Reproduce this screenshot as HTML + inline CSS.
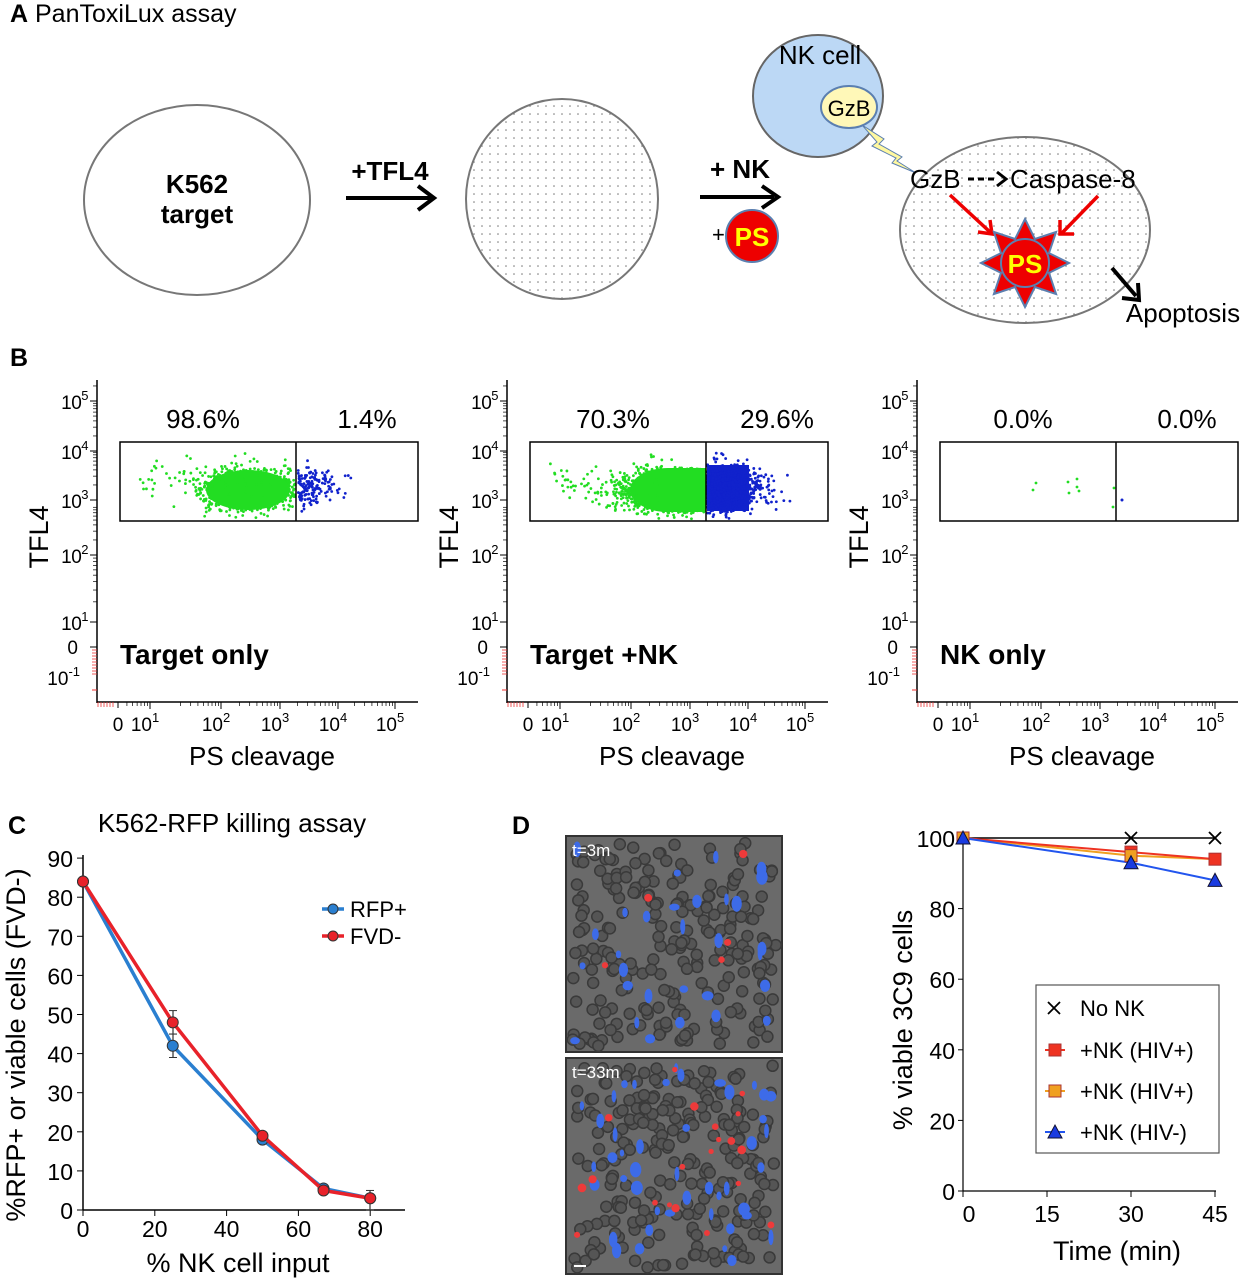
<!DOCTYPE html>
<html><head><meta charset="utf-8"><style>
html,body{margin:0;padding:0;background:#fff}
svg{display:block;font-family:"Liberation Sans",Arial,sans-serif}
</style></head><body>
<svg id="s" width="1249" height="1280" viewBox="0 0 1249 1280" xmlns="http://www.w3.org/2000/svg">
<defs>
<pattern id="dots" width="8" height="8" patternUnits="userSpaceOnUse"><circle cx="2" cy="2" r="0.8" fill="#777"/></pattern>
</defs>
<text x="10" y="22" font-size="25"><tspan font-weight="bold">A</tspan> PanToxiLux assay</text>
<ellipse cx="197" cy="200" rx="113" ry="95" fill="#fff" stroke="#777" stroke-width="2"/>
<text x="197" y="193" font-size="26" font-weight="bold" text-anchor="middle">K562</text>
<text x="197" y="223" font-size="26" font-weight="bold" text-anchor="middle">target</text>
<text x="390" y="180" font-size="26" font-weight="bold" text-anchor="middle">+TFL4</text>
<line x1="346" y1="198" x2="432" y2="198" stroke="#000" stroke-width="4"/><path d="M418,186 L434,198 L418,210" fill="none" stroke="#000" stroke-width="4"/>
<ellipse cx="562" cy="199" rx="96" ry="100" fill="#fff" stroke="#777" stroke-width="2"/>
<ellipse cx="562" cy="199" rx="96" ry="100" fill="url(#dots)"/>
<text x="740" y="178" font-size="26" font-weight="bold" text-anchor="middle">+ NK</text>
<line x1="700" y1="197" x2="774" y2="197" stroke="#000" stroke-width="4"/><path d="M762,186 L778,197 L762,208" fill="none" stroke="#000" stroke-width="4"/>
<text x="712" y="242" font-size="22">+</text>
<circle cx="752" cy="236" r="26" fill="#e00" stroke="#5b7fb0" stroke-width="2"/>
<text x="752" y="246" font-size="26" font-weight="bold" fill="#ff0" text-anchor="middle">PS</text>
<ellipse cx="818" cy="96" rx="65" ry="61" fill="#bcd8f5" stroke="#666" stroke-width="2"/>
<text x="820" y="64" font-size="26" text-anchor="middle">NK cell</text>
<ellipse cx="849" cy="107" rx="28" ry="21" fill="#fff8b8" stroke="#5b7fb0" stroke-width="2"/>
<text x="849" y="116" font-size="22" text-anchor="middle">GzB</text>
<ellipse cx="1025" cy="230" rx="125" ry="93" fill="#fff" stroke="#777" stroke-width="2"/>
<ellipse cx="1025" cy="230" rx="125" ry="93" fill="url(#dots)"/>
<path d="M862,125 L884,139 L879,144 L902,157 L897,161 L916,173 L892,163 L896,158 L872,146 L877,142 Z" fill="#fff8a0" stroke="#5b7fb0" stroke-width="1"/>
<text x="910" y="188" font-size="26">GzB</text>
<line x1="968" y1="179" x2="998" y2="179" stroke="#000" stroke-width="3" stroke-dasharray="6,4"/><path d="M997,172 L1006,179 L997,186" fill="none" stroke="#000" stroke-width="3"/>
<text x="1010" y="188" font-size="26">Caspase-8</text>
<line x1="950" y1="195" x2="990" y2="232" stroke="#e00" stroke-width="3.5"/><path d="M978,232 L992,234 L990,220" fill="none" stroke="#e00" stroke-width="3.5"/>
<line x1="1098" y1="196" x2="1062" y2="233" stroke="#e00" stroke-width="3.5"/><path d="M1060,220 L1060,234 L1074,234" fill="none" stroke="#e00" stroke-width="3.5"/>
<g id="star"></g>
<circle cx="1025" cy="263" r="24" fill="#e00" stroke="#5b7fb0" stroke-width="2"/>
<text x="1025" y="273" font-size="26" font-weight="bold" fill="#ff0" text-anchor="middle">PS</text>
<line x1="1112" y1="268" x2="1136" y2="296" stroke="#000" stroke-width="4"/><path d="M1122,298 L1139,300 L1138,283" fill="none" stroke="#000" stroke-width="4"/>
<text x="1183" y="322" font-size="26" text-anchor="middle">Apoptosis</text>
<text x="10" y="366" font-size="25" font-weight="bold">B</text>
<g id="flow"></g>
<text x="8" y="834" font-size="25" font-weight="bold">C</text>
<text x="232" y="832" font-size="26" text-anchor="middle">K562-RFP killing assay</text>
<g id="pc"></g>
<text x="512" y="834" font-size="25" font-weight="bold">D</text>
<g id="micro"></g>
<g id="pd"></g>
</svg>
<script>
var NS="http://www.w3.org/2000/svg";
function el(p,t,a,txt){var e=document.createElementNS(NS,t);for(var k in a)e.setAttribute(k,a[k]);if(txt!=null)e.textContent=txt;(typeof p=='string'?document.getElementById(p):p).appendChild(e);return e;}
function sup(e,t){var s=document.createElementNS(NS,'tspan');s.setAttribute('dy','-9');s.setAttribute('font-size','13');s.textContent=t;e.appendChild(s);}
var seed=7;function rnd(){seed=(seed*16807)%2147483647;return seed/2147483647;}
function gauss(){return Math.sqrt(-2*Math.log(rnd()+1e-9))*Math.cos(2*Math.PI*rnd());}
(function(){var g=document.getElementById('star'),cx=1025,cy=263,pts=[];for(var i=0;i<16;i++){var r=i%2?26:44,a=i*Math.PI/8-Math.PI/2;pts.push((cx+r*Math.cos(a)).toFixed(1)+','+(cy+r*Math.sin(a)).toFixed(1));}
el(g,'polygon',{points:pts.join(' '),fill:'#e00',stroke:'#5b7fb0','stroke-width':2});})();
function flow(ox,pL,pR,lab,mode){
 var g=el('flow','g',{transform:'translate('+ox+',0)'});
 el(g,'line',{x1:97,y1:380,x2:97,y2:703,stroke:'#000','stroke-width':1.5});
 el(g,'line',{x1:97,y1:702,x2:418,y2:702,stroke:'#000','stroke-width':1.5});
 var yt=[[401,'5'],[451,'4'],[500,'3'],[555,'2'],[622,'1']];
 yt.forEach(function(t){sup(el(g,'text',{x:88,y:t[0]+8,'font-size':19,'text-anchor':'end','letter-spacing':'-0.5'},'10'),t[1]);
  el(g,'line',{x1:90,y1:t[0],x2:97,y2:t[0],stroke:'#000'});
  for(var k=1;k<9;k++){var yy=t[0]-Math.log10(k+1)*(t[0]==622?67:50);if(t[0]>401||k<2)el(g,'line',{x1:93,y1:yy,x2:97,y2:yy,stroke:'#000','stroke-width':0.7});}
 });
 el(g,'text',{x:78,y:654,'font-size':19,'text-anchor':'end'},'0');el(g,'line',{x1:90,y1:647,x2:97,y2:647,stroke:'#000'});
 sup(el(g,'text',{x:80,y:685,'font-size':19,'text-anchor':'end'},'10'),'-1');
 for(var y=650;y<676;y+=3)el(g,'line',{x1:92,y1:y,x2:97,y2:y,stroke:'#e33','stroke-width':0.8});
 el(g,'line',{x1:92,y1:690,x2:97,y2:690,stroke:'#e33'});
 for(var x=98;x<116;x+=3)el(g,'line',{x1:x,y1:702,x2:x,y2:707,stroke:'#e33','stroke-width':0.8});
 var xt=[[150,'1'],[221,'2'],[280,'3'],[338,'4'],[395,'5']];
 el(g,'text',{x:118,y:731,'font-size':19,'text-anchor':'middle'},'0');el(g,'line',{x1:118,y1:702,x2:118,y2:708,stroke:'#000'});
 xt.forEach(function(t){sup(el(g,'text',{x:t[0]-5,y:731,'font-size':19,'text-anchor':'middle'},'10'),t[1]);
  el(g,'line',{x1:t[0],y1:702,x2:t[0],y2:709,stroke:'#000'});
  for(var k=1;k<9;k++){var xx=t[0]-58+Math.log10(k+1)*58;if(xx>122)el(g,'line',{x1:xx,y1:702,x2:xx,y2:706,stroke:'#000','stroke-width':0.7});}});
 el(g,'text',{x:262,y:765,'font-size':26,'text-anchor':'middle'},'PS cleavage');
 el(g,'text',{x:0,y:0,'font-size':27,'text-anchor':'middle',transform:'translate(48,537) rotate(-90)'},'TFL4');
 el(g,'text',{x:203,y:428,'font-size':26,'text-anchor':'middle'},pL);
 el(g,'text',{x:367,y:428,'font-size':26,'text-anchor':'middle'},pR);
 el(g,'text',{x:120,y:664,'font-size':28,'font-weight':'bold'},lab);
 el(g,'rect',{x:120,y:442,width:298,height:79,fill:'none',stroke:'#000','stroke-width':1.5});
 if(mode==0){
  for(var i=0;i<1500;i++){var x=250+gauss()*22,y=490+gauss()*9;if(x>296||y<447||y>518)continue;el(g,'circle',{cx:x,cy:y,r:1.4,fill:'#2d2'});}
  el(g,'ellipse',{cx:248,cy:490,rx:42,ry:20,fill:'#2d2'});
  for(var i=0;i<80;i++){var x=140+rnd()*150,y=480+gauss()*10;el(g,'circle',{cx:x,cy:y,r:1.4,fill:'#2d2'});}
  for(var i=0;i<160;i++){var x=298+Math.abs(gauss())*18,y=487+gauss()*9;el(g,'circle',{cx:x,cy:y,r:1.4,fill:'#12c'});}
 } else if(mode==1){
  for(var i=0;i<1800;i++){var x=265+gauss()*28,y=490+gauss()*10;if(x>296||y<447||y>519)continue;el(g,'circle',{cx:x,cy:y,r:1.4,fill:'#2d2'});}
  el(g,'ellipse',{cx:258,cy:490,rx:38,ry:22,fill:'#2d2'});el(g,'rect',{x:258,y:468,width:38,height:44,fill:'#2d2'});
  for(var i=0;i<60;i++){var x=140+rnd()*110,y=485+gauss()*10;el(g,'circle',{cx:x,cy:y,r:1.4,fill:'#2d2'});}
  el(g,'rect',{x:297,y:465,width:42,height:46,fill:'#12c'});
  for(var i=0;i<900;i++){var x=297+Math.abs(gauss())*26,y=488+gauss()*11;if(y<450||y>519)continue;el(g,'circle',{cx:x,cy:y,r:1.4,fill:'#12c'});}
 } else {
  [[213,490],[216,483],[248,482],[249,493],[257,479],[257,487],[259,491],[294,488],[293,507]].forEach(function(p){el(g,'circle',{cx:p[0],cy:p[1],r:1.4,fill:'#2d2'});});
  el(g,'circle',{cx:302,cy:500,r:1.5,fill:'#12c'});
 }
 el(g,'line',{x1:296,y1:442,x2:296,y2:521,stroke:'#000','stroke-width':1.5});
}
flow(0,'98.6%','1.4%','Target only',0);
flow(410,'70.3%','29.6%','Target +NK',1);
flow(820,'0.0%','0.0%','NK only',2);
(function(){var g=document.getElementById('pc'),X=function(v){return 83+v*3.59},Y=function(v){return 1210-v*3.91};
 el(g,'line',{x1:83,y1:855,x2:83,y2:1210,stroke:'#000','stroke-width':1.5});el(g,'line',{x1:83,y1:1210,x2:405,y2:1210,stroke:'#000','stroke-width':1.5});
 for(var v=0;v<=90;v+=10){el(g,'line',{x1:77,y1:Y(v),x2:83,y2:Y(v),stroke:'#000'});el(g,'text',{x:73,y:Y(v)+9,'font-size':23,'text-anchor':'end'},v);}
 for(var v=0;v<=80;v+=20){el(g,'line',{x1:X(v),y1:1210,x2:X(v),y2:1216,stroke:'#000'});el(g,'text',{x:X(v),y:1237,'font-size':23,'text-anchor':'middle'},v);}
 el(g,'text',{x:238,y:1272,'font-size':27,'text-anchor':'middle'},'% NK cell input');
 el(g,'text',{x:0,y:0,'font-size':27,'text-anchor':'middle',transform:'translate(25,1045) rotate(-90)'},'%RFP+ or viable cells (FVD-)');
 var R=[[0,84],[25,42],[50,18],[67,5.5],[80,3]],F=[[0,84],[25,48],[50,19],[67,5],[80,3]];
 [[173,45,42,39],[173,51,48,45],[370,5,3,0]].forEach(function(e){el(g,'line',{x1:e[0],y1:Y(e[1]),x2:e[0],y2:Y(e[3]),stroke:'#333','stroke-width':1.2});el(g,'line',{x1:e[0]-4,y1:Y(e[1]),x2:e[0]+4,y2:Y(e[1]),stroke:'#333'});el(g,'line',{x1:e[0]-4,y1:Y(e[3]),x2:e[0]+4,y2:Y(e[3]),stroke:'#333'});});
 function ser(d,c){el(g,'polyline',{points:d.map(function(p){return X(p[0])+','+Y(p[1])}).join(' '),fill:'none',stroke:c,'stroke-width':3.5});d.forEach(function(p){el(g,'circle',{cx:X(p[0]),cy:Y(p[1]),r:5.5,fill:c,stroke:'#333','stroke-width':1});});}
 ser(R,'#2a7fd0');ser(F,'#e8222a');
 el(g,'line',{x1:322,y1:909,x2:344,y2:909,stroke:'#2a7fd0','stroke-width':3.5});el(g,'circle',{cx:333,cy:909,r:5,fill:'#2a7fd0',stroke:'#333'});
 el(g,'text',{x:350,y:917,'font-size':22},'RFP+');
 el(g,'line',{x1:322,y1:936,x2:344,y2:936,stroke:'#e8222a','stroke-width':3.5});el(g,'circle',{cx:333,cy:936,r:5,fill:'#e8222a',stroke:'#333'});
 el(g,'text',{x:350,y:944,'font-size':22},'FVD-');
})();
(function(){var g=document.getElementById('micro');
 [[836,'t=3m',0],[1058,'t=33m',1]].forEach(function(m){var y0=m[0];
  el(g,'rect',{x:566,y:y0,width:216,height:216,fill:'#6a6a6a',stroke:'#333','stroke-width':2});
  for(var i=0;i<240;i++){var x=572+rnd()*204,y=y0+6+rnd()*204;el(g,'circle',{cx:x,cy:y,r:5.5,fill:'#555',stroke:'#3a3a3a','stroke-width':1.5});}
  for(var i=0;i<(m[2]?45:30);i++){var x=572+rnd()*200,y=y0+6+rnd()*200;el(g,'ellipse',{cx:x,cy:y,rx:2+rnd()*4,ry:3+rnd()*5,fill:'#3d6be8'});}
  for(var i=0;i<(m[2]?20:5);i++){var x=572+rnd()*200,y=y0+6+rnd()*200;el(g,'circle',{cx:x,cy:y,r:2.5+rnd()*2,fill:'#ee3a3a'});}
  el(g,'text',{x:572,y:y0+20,'font-size':17,fill:'#fff'},m[1]);
 });
 el(g,'line',{x1:574,y1:1266,x2:586,y2:1266,stroke:'#fff','stroke-width':2});
})();
(function(){var g=document.getElementById('pd'),X=function(v){return 963+v*5.6},Y=function(v){return 1191-v*3.53};
 el(g,'line',{x1:963,y1:836,x2:963,y2:1191,stroke:'#000','stroke-width':1.2});el(g,'line',{x1:963,y1:1191,x2:1216,y2:1191,stroke:'#000','stroke-width':1.2});
 for(var v=0;v<=100;v+=20){el(g,'line',{x1:958,y1:Y(v),x2:963,y2:Y(v),stroke:'#000'});el(g,'text',{x:955,y:Y(v)+9,'font-size':23,'text-anchor':'end'},v);}
 [0,15,30,45].forEach(function(v){el(g,'line',{x1:X(v),y1:1191,x2:X(v),y2:1197,stroke:'#000'});el(g,'text',{x:X(v)+(v==0?6:0),y:1222,'font-size':23,'text-anchor':'middle'},v);});
 el(g,'text',{x:1117,y:1260,'font-size':27,'text-anchor':'middle'},'Time (min)');
 el(g,'text',{x:0,y:0,'font-size':27,'text-anchor':'middle',transform:'translate(912,1020) rotate(-90)'},'% viable 3C9 cells');
 el(g,'polyline',{points:X(0)+','+Y(100)+' '+X(45)+','+Y(100),fill:'none',stroke:'#000','stroke-width':1.5});
 el(g,'polyline',{points:X(0)+','+Y(100)+' '+X(30)+','+Y(95)+' '+X(45)+','+Y(94),fill:'none',stroke:'#f0a020','stroke-width':2});
 el(g,'polyline',{points:X(0)+','+Y(100)+' '+X(30)+','+Y(96)+' '+X(45)+','+Y(94),fill:'none',stroke:'#ee3322','stroke-width':2});
 el(g,'polyline',{points:X(0)+','+Y(100)+' '+X(30)+','+Y(93)+' '+X(45)+','+Y(88),fill:'none',stroke:'#2255ee','stroke-width':2});
 function sq(x,y,c){el(g,'rect',{x:x-6,y:y-6,width:12,height:12,fill:c,stroke:'#a33','stroke-width':1});}
 function tri(x,y){el(g,'polygon',{points:(x-7)+','+(y+6)+' '+(x+7)+','+(y+6)+' '+x+','+(y-7),fill:'#1a3be0',stroke:'#113'});}
 function cr(x,y){el(g,'path',{d:'M'+(x-6)+','+(y-6)+'L'+(x+6)+','+(y+6)+'M'+(x+6)+','+(y-6)+'L'+(x-6)+','+(y+6),stroke:'#000','stroke-width':1.8});}
 cr(X(30),Y(100));cr(X(45),Y(100));
 sq(X(0),Y(100),'#f0a020');sq(X(30),Y(96),'#ee3322');sq(X(30),Y(95),'#f0a020');sq(X(45),Y(94),'#ee3322');
 tri(X(0),Y(100));tri(X(30),Y(93));tri(X(45),Y(88));
 el(g,'rect',{x:1036,y:985,width:183,height:168,fill:'#fff',stroke:'#555','stroke-width':1.2});
 cr(1054,1008);el(g,'text',{x:1080,y:1016,'font-size':22},'No NK');
 el(g,'line',{x1:1045,y1:1050,x2:1065,y2:1050,stroke:'#ee3322','stroke-width':2});sq(1055,1050,'#ee3322');el(g,'text',{x:1080,y:1058,'font-size':22},'+NK (HIV+)');
 el(g,'line',{x1:1045,y1:1091,x2:1065,y2:1091,stroke:'#f0a020','stroke-width':2});sq(1055,1091,'#f0a020');el(g,'text',{x:1080,y:1099,'font-size':22},'+NK (HIV+)');
 el(g,'line',{x1:1045,y1:1132,x2:1065,y2:1132,stroke:'#2255ee','stroke-width':2});tri(1055,1132);el(g,'text',{x:1080,y:1140,'font-size':22},'+NK (HIV-)');
})();
</script>
</body></html>
